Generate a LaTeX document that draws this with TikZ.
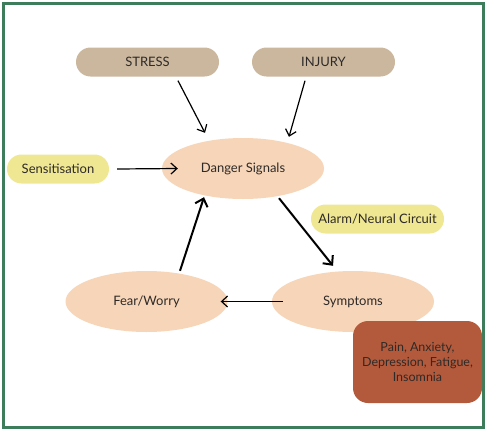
\documentclass[tikz,border=0pt]{standalone}
\usepackage{fontspec}
\setmainfont{Lato}
\usetikzlibrary{shapes.geometric,arrows.meta}
\definecolor{frame}{HTML}{3E7D5B}
\definecolor{sand}{HTML}{CBB79E}
\definecolor{lemon}{HTML}{EFE792}
\definecolor{peach}{HTML}{F6D5B8}
\definecolor{rust}{HTML}{B45A3C}
\definecolor{ink}{HTML}{2E2A28}
\begin{document}
\begin{tikzpicture}[x=1pt,y=-1pt,
  font=\fontsize{13}{15}\selectfont,text=ink,
  pill/.style={rectangle,rounded corners=14.5pt,fill=#1,minimum height=29pt,inner sep=0pt},
  oval/.style={ellipse,fill=peach,minimum width=162pt,minimum height=61pt,inner sep=0pt},
  arr/.style={line width=1.2pt,-{Straight Barb[length=6pt,width=11pt]}},
  bigarr/.style={line width=2pt,-{Straight Barb[length=7pt,width=13pt]}}]
\useasboundingbox (0,0) rectangle (487,431);
\draw[frame,line width=3pt] (3,3) rectangle (483,427);

\node[pill=sand,minimum width=143pt] (stress) at (147.5,62) {STRESS};
\node[pill=sand,minimum width=143pt] (injury) at (323.5,62) {INJURY};
\node[pill=lemon,minimum width=102pt] (sens) at (58,169) {Sensitisation};
\node[pill=lemon,minimum width=133pt] (alarm) at (377.5,219) {Alarm/Neural Circuit};

\node[oval] (danger) at (243,168.5) {Danger Signals};
\node[oval] (fear) at (146.5,301.5) {Fear/Worry};
\node[oval] (symptoms) at (353,301.5) {Symptoms};
\node[rectangle,rounded corners=15pt,fill=rust,minimum width=129pt,minimum height=82pt,
  inner sep=0pt,align=center,font=\fontsize{12.5}{15}\selectfont] (effects) at (417.5,362)
  {Pain, Anxiety,\\Depression, Fatigue,\\Insomnia};

\draw[arr] ([xshift=30.5pt,yshift=-4pt]stress.south) -- ([xshift=-38pt,yshift=5pt]danger.north);
\draw[arr] ([xshift=-18.5pt,yshift=-4pt]injury.south) -- ([xshift=46pt,yshift=1pt]danger.north);
\draw[arr] ([xshift=8pt]sens.east) -- ([xshift=16pt]danger.west);
\draw[bigarr] ([xshift=36pt,yshift=1pt]danger.south) -- ([xshift=-20pt,yshift=5pt]symptoms.north);
\draw[bigarr] ([xshift=33.5pt]fear.north) -- ([xshift=-39pt,yshift=2pt]danger.south);
\draw[arr] ([xshift=11pt]symptoms.west) -- ([xshift=-7pt]fear.east);

\end{tikzpicture}
\end{document}
